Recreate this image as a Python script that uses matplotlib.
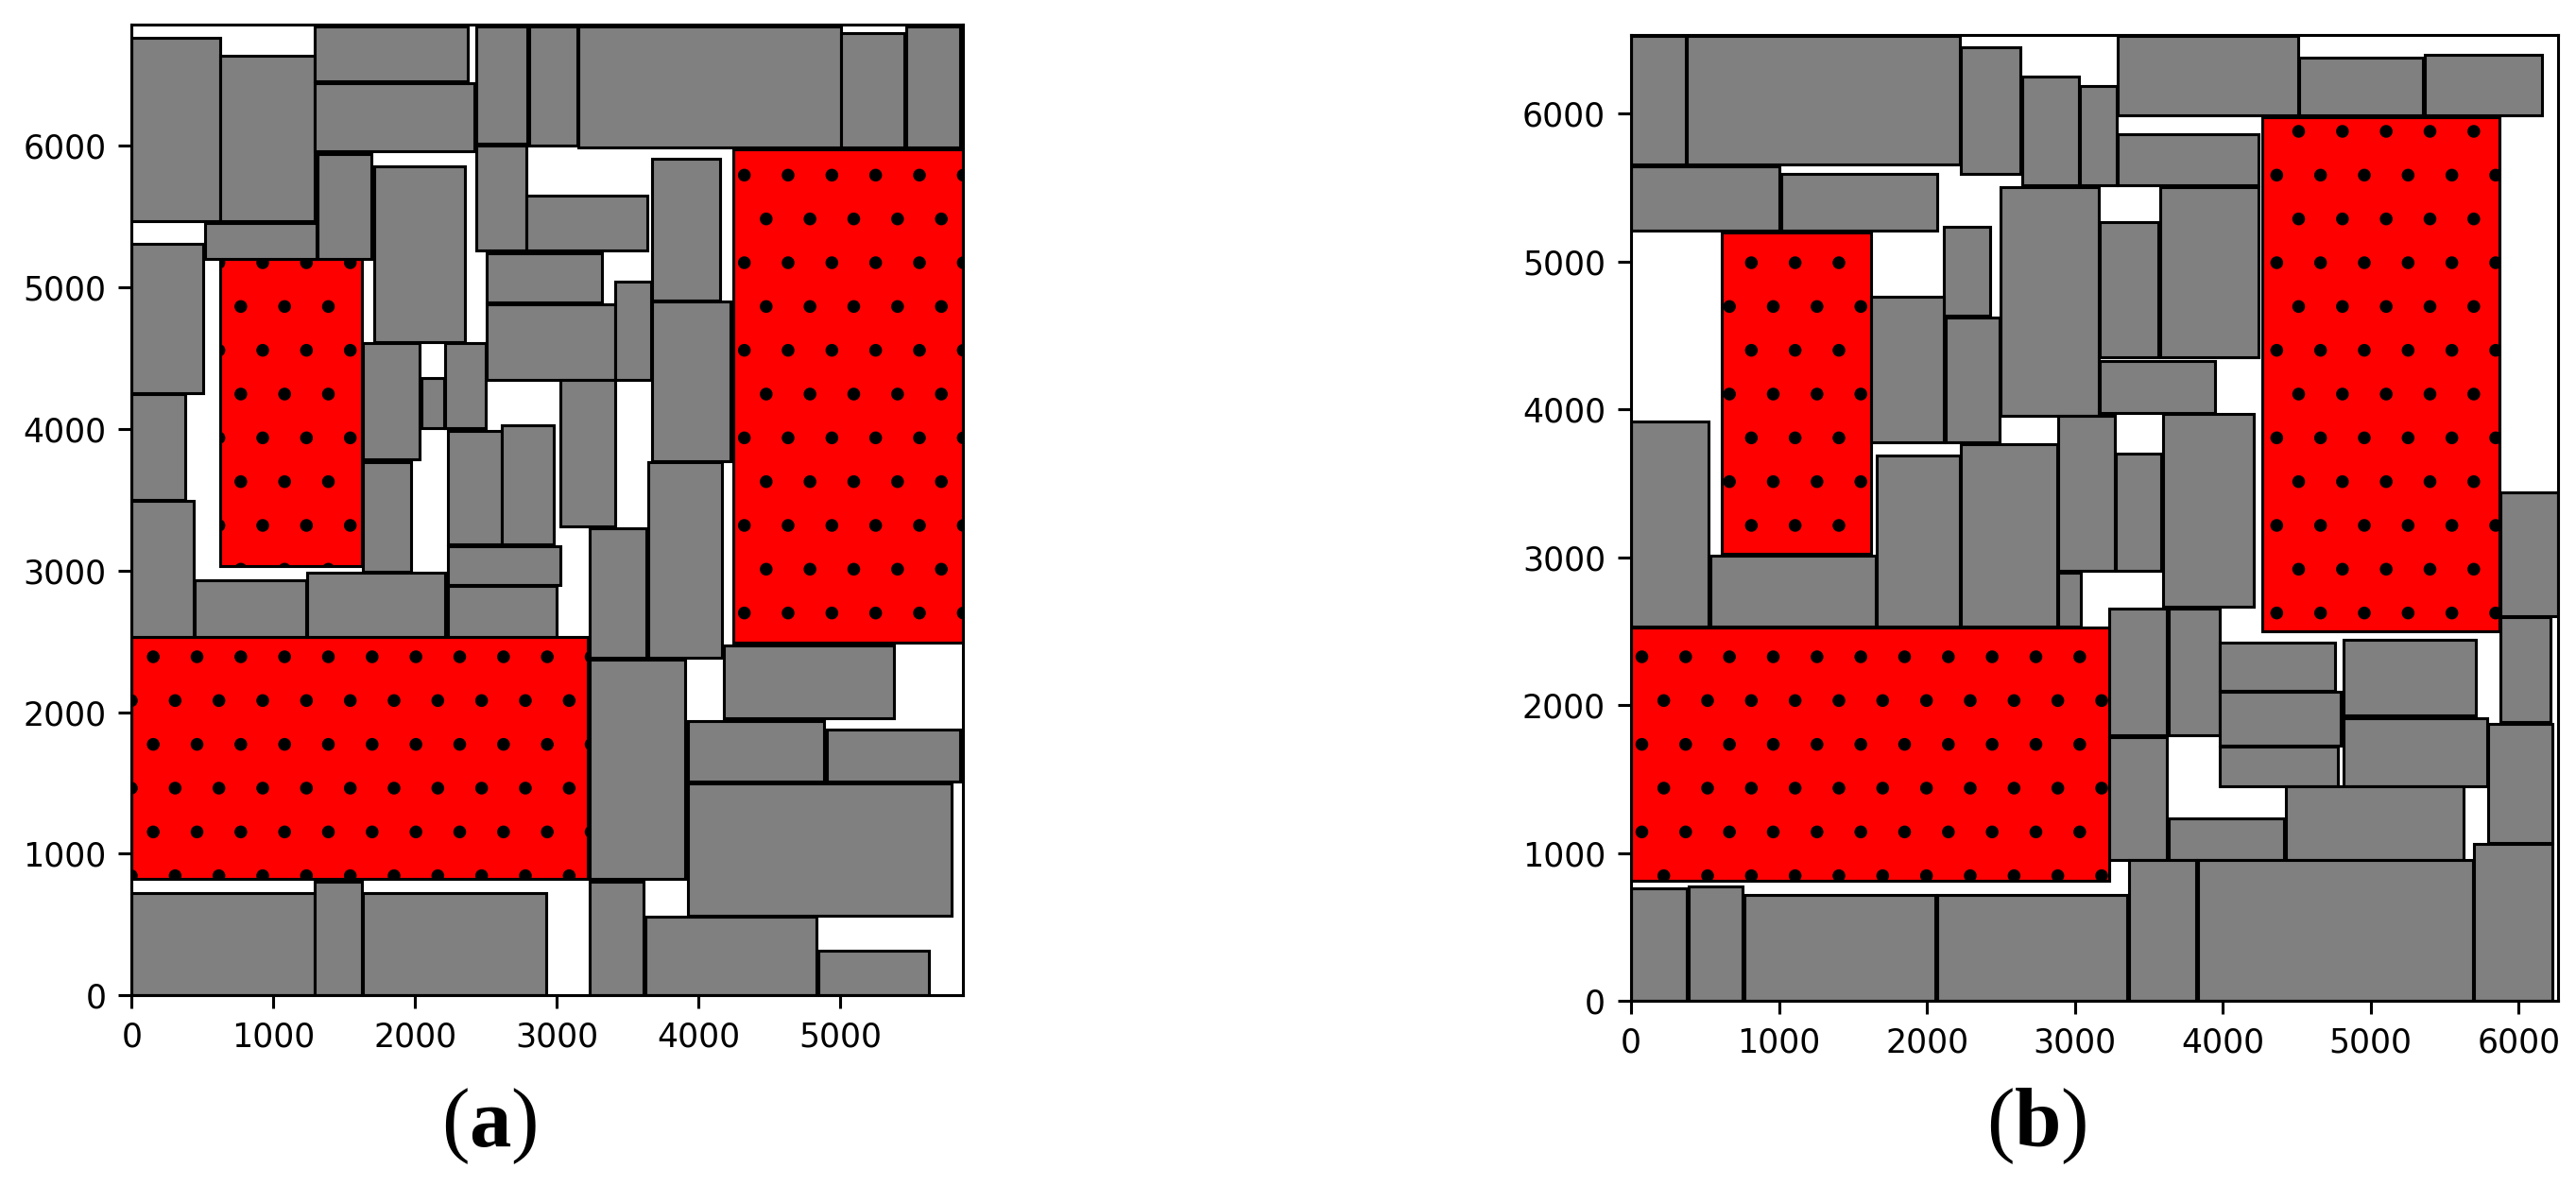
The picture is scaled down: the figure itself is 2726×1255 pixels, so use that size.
import matplotlib
matplotlib.use("Agg")
import matplotlib.pyplot as plt
from matplotlib.patches import Rectangle

# ---------------- data: panel (a) ----------------
# gray blocks: left, bottom, right, top
a_gray_x0 = [0, 625, 1295, 1295, 2430, 2805, 3150, 5010, 5465, 0, 515, 1315, 1710, 2430, 2785, 2505,
             2505, 3415, 3675, 3675, 0, 0, 445, 1240, 1635, 1635, 2045, 2215, 2230, 2615, 2230, 2230,
             3025, 3230, 3645, 3230, 4180, 3925, 4910, 3925, 0, 1295, 1635, 3230, 3625, 4845]
a_gray_y0 = [5470, 5470, 6460, 5960, 6015, 6005, 5990, 5990, 5990, 4255, 5205, 5205, 4615, 5265, 5265, 4895,
             4350, 4350, 4910, 3775, 3500, 2530, 2530, 2530, 3785, 2990, 4005, 4005, 3185, 3185, 2900, 2530,
             3310, 2385, 2385, 820, 1955, 1510, 1510, 560, 0, 0, 0, 0, 0, 0]
a_gray_x1 = [625, 1290, 2375, 2420, 2795, 3145, 5010, 5455, 5845, 505, 1305, 1695, 2355, 2785, 3640, 3320,
             3415, 3665, 4155, 4230, 380, 435, 1230, 2215, 2035, 1975, 2205, 2500, 2610, 2980, 3025, 3000,
             3415, 3635, 4165, 3910, 5380, 4890, 5845, 5790, 1290, 1625, 2925, 3615, 4835, 5630]
a_gray_y1 = [6765, 6640, 6845, 6445, 6845, 6845, 6845, 6800, 6845, 5310, 5455, 5945, 5855, 6000, 5650, 5240,
             4885, 5040, 5910, 4905, 4250, 3495, 2935, 2985, 4610, 3770, 4360, 4610, 3990, 4030, 3175, 2890,
             4345, 3300, 3770, 2370, 2475, 1940, 1875, 1495, 725, 800, 725, 805, 555, 315]
# red (reserved) blocks
a_red_x0 = [0, 4250, 625]
a_red_y0 = [820, 2490, 3035]
a_red_x1 = [3220, 5870, 1625]
a_red_y1 = [2530, 5975, 5200]
a_xlim = (0, 5870)
a_ylim = (0, 6855)
a_xticks = [0, 1000, 2000, 3000, 4000, 5000]
a_yticks = [0, 1000, 2000, 3000, 4000, 5000, 6000]

# ---------------- data: panel (b) ----------------
b_gray_x0 = [0, 375, 2230, 2645, 3035, 3290, 4515, 5365, 3290, 0, 1015, 2115, 1625, 2125, 2495, 3170,
             3575, 3170, 0, 535, 1660, 2230, 2890, 3280, 2890, 3595, 3230, 3635, 3230, 3980, 3980, 3980,
             4815, 4815, 3635, 4425, 5880, 5880, 5795, 5700, 3830, 3365, 2070, 765, 390, 0]
b_gray_y0 = [5655, 5655, 5595, 5520, 5520, 5990, 5990, 5990, 5520, 5210, 5210, 4635, 3780, 3780, 3960, 4355,
             4355, 3975, 2535, 2535, 2535, 2535, 2910, 2910, 2535, 2665, 1795, 1795, 955, 2100, 1725, 1455,
             1930, 1455, 955, 955, 2605, 1890, 1070, 0, 0, 0, 0, 0, 0, 0]
b_gray_x1 = [370, 2220, 2635, 3025, 3285, 4510, 5355, 6160, 4240, 1000, 2070, 2430, 2115, 2490, 3165, 3565,
             4240, 3945, 525, 1655, 2220, 2880, 3270, 3585, 3040, 4210, 3625, 3980, 3625, 4760, 4800, 4780,
             5710, 5785, 4415, 5630, 6265, 6215, 6230, 6230, 5695, 3820, 3355, 2060, 755, 380]
b_gray_y1 = [6525, 6525, 6450, 6255, 6185, 6525, 6380, 6400, 5860, 5645, 5595, 5235, 4760, 4625, 5505, 5265,
             5505, 4330, 3920, 3015, 3690, 3765, 3955, 3705, 2900, 3970, 2655, 2655, 1785, 2425, 2090, 1720,
             2445, 1915, 1235, 1450, 3440, 2595, 1875, 1060, 955, 955, 720, 720, 775, 760]
b_red_x0 = [0, 4265, 615]
b_red_y0 = [815, 2500, 3025]
b_red_x1 = [3230, 5870, 1625]
b_red_y1 = [2525, 5980, 5195]
b_xlim = (0, 6265)
b_ylim = (0, 6535)
b_xticks = [0, 1000, 2000, 3000, 4000, 5000, 6000]
b_yticks = [0, 1000, 2000, 3000, 4000, 5000, 6000]

panel_labels = ["a", "b"]

# ---------------- style ----------------
DPI = 278
plt.rcParams["hatch.linewidth"] = 1.1
plt.rcParams["mathtext.fontset"] = "custom"
plt.rcParams["mathtext.rm"] = "Liberation Serif"
plt.rcParams["mathtext.bf"] = "Liberation Serif:bold"

fig = plt.figure(figsize=(2726 / DPI, 1255 / DPI), dpi=DPI)
ax_a = fig.add_axes([139.3 / 2726, 1 - 1053.3 / 1255, (1019.3 - 139.3) / 2726, (1053.3 - 26.4) / 1255])
ax_b = fig.add_axes([1726.0 / 2726, 1 - 1059.3 / 1255, (2706.7 - 1726.0) / 2726, (1059.3 - 36.7) / 1255])


def draw_panel(ax, gx0, gy0, gx1, gy1, rx0, ry0, rx1, ry1, xlim, ylim, xticks, yticks):
    for x0, y0, x1, y1 in zip(rx0, ry0, rx1, ry1):
        ax.add_patch(Rectangle((x0, y0), x1 - x0, y1 - y0, facecolor="#ff0000",
                               edgecolor="black", linewidth=0.8, hatch="."))
    for x0, y0, x1, y1 in zip(gx0, gy0, gx1, gy1):
        ax.add_patch(Rectangle((x0, y0), x1 - x0, y1 - y0, facecolor="#808080",
                               edgecolor="black", linewidth=0.8))
    ax.set_xlim(*xlim)
    ax.set_ylim(*ylim)
    ax.set_xticks(xticks)
    ax.set_yticks(yticks)
    ax.tick_params(labelsize=9)


draw_panel(ax_a, a_gray_x0, a_gray_y0, a_gray_x1, a_gray_y1,
           a_red_x0, a_red_y0, a_red_x1, a_red_y1, a_xlim, a_ylim, a_xticks, a_yticks)
draw_panel(ax_b, b_gray_x0, b_gray_y0, b_gray_x1, b_gray_y1,
           b_red_x0, b_red_y0, b_red_x1, b_red_y1, b_xlim, b_ylim, b_xticks, b_yticks)

for xc, lab in zip([518 / 2726, 2155 / 2726], panel_labels):
    fig.text(xc, 1 - 1192 / 1255, "($\\mathbf{%s}$)" % lab, ha="center", va="center",
             fontsize=23, family="Liberation Serif")

fig.savefig("out.png", dpi=DPI)
